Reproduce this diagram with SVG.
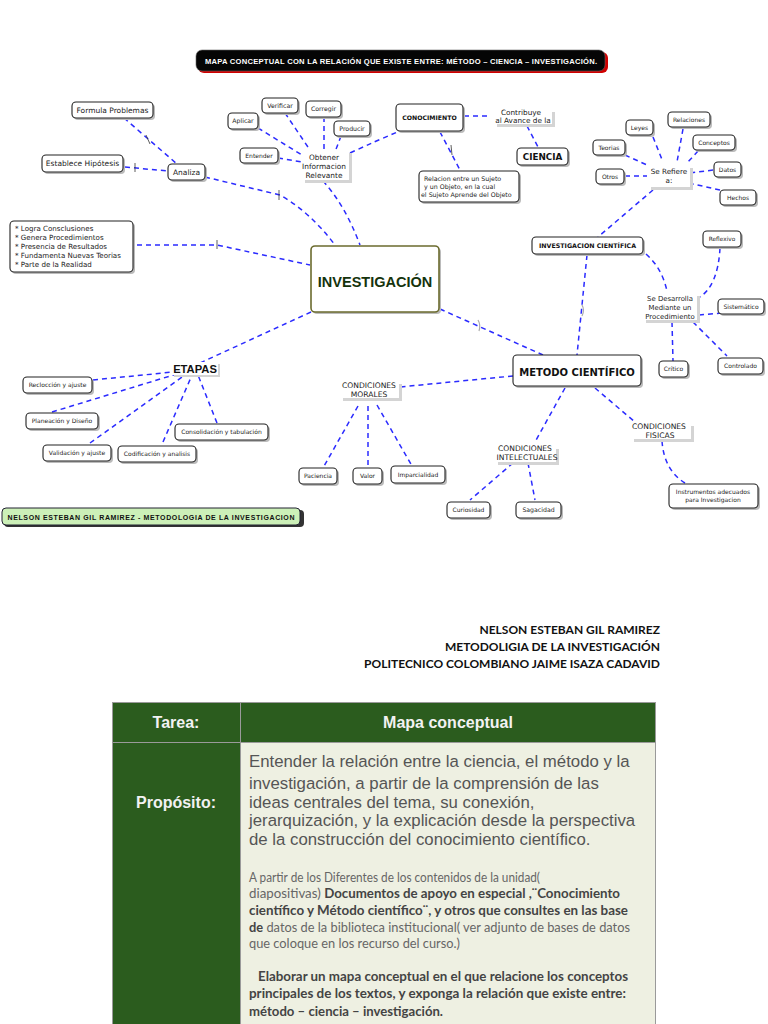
<svg xmlns="http://www.w3.org/2000/svg" width="768" height="1024" viewBox="0 0 768 1024">
<style>
.n{fill:#fff;stroke:#222;stroke-width:1.1}
.sh{fill:#bbb}
.lsh{fill:#d4d4d4}
.t{font-family:"DejaVu Sans",Verdana,sans-serif;fill:#222;text-anchor:middle}
.ts{font-family:"DejaVu Sans",Verdana,sans-serif;fill:#222;text-anchor:start}
.tb{font-family:"DejaVu Sans",Verdana,sans-serif;font-weight:bold;fill:#111;text-anchor:middle}
.c{fill:none;stroke:#2b2bff;stroke-width:1.5;stroke-dasharray:5 4}
.tick{stroke:#333;stroke-width:0.8}
.br{stroke:#aaa;stroke-width:1.2;fill:none}
.cal{font-family:"Lato","Open Sans",sans-serif}
</style>
<rect width="768" height="1024" fill="#fff"/>

<!-- title -->
<g id="title">
<rect x="198" y="52" width="410" height="21" rx="6" fill="#d00000"/>
<rect x="196" y="50" width="409" height="21" rx="6" fill="#050505" stroke="#666" stroke-width="0.6"/>
<text x="401" y="63.5" font-family="Liberation Sans,Arial,sans-serif" font-weight="bold" font-size="7.6" fill="#fff" text-anchor="middle" textLength="392">MAPA CONCEPTUAL CON LA RELACIÓN QUE EXISTE ENTRE: MÉTODO – CIENCIA – INVESTIGACIÓN.</text>
</g>

<!-- connectors -->
<g id="connectors">
<path class="c" d="M124,118 L177,164"/>
<path class="c" d="M125,167 L168,171"/>
<path class="c" d="M205,177 L280,195 Q310,212 335,245"/>
<path class="c" d="M323,181 Q345,205 360,245"/>
<path class="c" d="M137,245 L217,245 L310,265"/>
<path class="c" d="M258,128 L302,155"/>
<path class="c" d="M285,113 L312,153"/>
<path class="c" d="M324,117 L324,152"/>
<path class="c" d="M341,136 L335,152"/>
<path class="c" d="M278,158 L302,162"/>
<path class="c" d="M350,153 Q378,140 400,131"/>
<path class="c" d="M464,116 L491,116"/>
<path class="c" d="M527,126 L538,147"/>
<path class="c" d="M440,132 L460,170"/>
<path class="c" d="M653,137 L663,162"/>
<path class="c" d="M683,129 L677,162"/>
<path class="c" d="M698,151 L688,162"/>
<path class="c" d="M625,155 L647,165"/>
<path class="c" d="M625,176 L647,176"/>
<path class="c" d="M713,170 L690,173"/>
<path class="c" d="M720,190 L693,184"/>
<path class="c" d="M653,190 L598,237"/>
<path class="c" d="M587,255 L577,355"/>
<path class="c" d="M646,254 Q662,268 667,291"/>
<path class="c" d="M720,248 Q718,285 700,297"/>
<path class="c" d="M699,315 L722,313"/>
<path class="c" d="M672,322 L673,361"/>
<path class="c" d="M693,322 L727,356"/>
<path class="c" d="M440,309 L543,355"/>
<path class="c" d="M311,312 L200,363"/>
<path class="c" d="M93,380 L173,372"/>
<path class="c" d="M52,412 L180,373"/>
<path class="c" d="M90,443 L185,375"/>
<path class="c" d="M163,442 L192,375"/>
<path class="c" d="M217,423 L198,375"/>
<path class="c" d="M513,376 L400,387"/>
<path class="c" d="M358,406 L323,468"/>
<path class="c" d="M368,406 L368,469"/>
<path class="c" d="M377,405 L412,466"/>
<path class="c" d="M565,388 L535,442"/>
<path class="c" d="M595,388 L635,422"/>
<path class="c" d="M662,441 Q664,470 685,483"/>
<path class="c" d="M513,463 L470,500"/>
<path class="c" d="M528,463 L535,500"/>
<line class="tick" x1="146" y1="135" x2="150" y2="144"/>
<line class="tick" x1="135" y1="163" x2="135" y2="172"/>
<line class="tick" x1="279" y1="190" x2="279" y2="200"/>
<line class="tick" x1="217" y1="240" x2="217" y2="249"/>
<line class="tick" x1="451" y1="145" x2="452" y2="155"/>
<path class="br" d="M582,305 Q585,310 582,316"/>
<path class="br" d="M478,320 Q481,325 479,331"/>
</g>

<!-- nodes -->
<g id="n-formula"><rect class="sh" x="74" y="104" width="81" height="16" rx="4"/><rect class="n" x="72" y="102" width="81" height="16" rx="4"/><text class="t" x="112.5" y="112.7" font-size="7.5">Formula Problemas</text></g>
<g id="n-hipotesis"><rect class="sh" x="44" y="157" width="81" height="17" rx="4"/><rect class="n" x="42" y="155" width="81" height="17" rx="4"/><text class="t" x="82.5" y="166.2" font-size="7.5">Establece Hipótesis</text></g>
<g id="n-analiza"><rect class="sh" x="170" y="166" width="37" height="16" rx="4"/><rect class="n" x="168" y="164" width="37" height="16" rx="4"/><text class="t" x="186.5" y="174.7" font-size="7.5">Analiza</text></g>
<g id="n-logra"><rect class="sh" x="12" y="223" width="123" height="51" rx="4"/><rect class="n" x="10" y="221" width="123" height="51" rx="4"/>
<text class="ts" x="15" y="230.5" font-size="7.1">* Logra Consclusiones</text>
<text class="ts" x="15" y="239.5" font-size="7.1">* Genera Procedimientos</text>
<text class="ts" x="15" y="248.5" font-size="7.1">* Presencia de Resultados</text>
<text class="ts" x="15" y="257.5" font-size="7.1">* Fundamenta Nuevas Teorias</text>
<text class="ts" x="15" y="266.5" font-size="7.1">* Parte de la Realidad</text></g>
<g id="n-investigacion"><rect class="sh" x="313" y="248" width="128" height="66" rx="4"/><rect x="311" y="246" width="128" height="66" rx="4" fill="#fff" stroke="#6b6b2e" stroke-width="1.6"/><text x="375" y="287" font-family="Liberation Sans,Arial,sans-serif" font-weight="bold" font-size="14.5" fill="#15330c" text-anchor="middle">INVESTIGACIÓN</text></g>
<g id="n-verificar"><rect class="sh" x="264" y="100" width="36" height="15" rx="4"/><rect class="n" x="262" y="98" width="36" height="15" rx="4"/><text class="t" x="280" y="107.8" font-size="6.2">Verificar</text></g>
<g id="n-corregir"><rect class="sh" x="308" y="103" width="35" height="16" rx="4"/><rect class="n" x="306" y="101" width="35" height="16" rx="4"/><text class="t" x="323.5" y="111.3" font-size="6.2">Corregir</text></g>
<g id="n-aplicar"><rect class="sh" x="230" y="115" width="30" height="16" rx="4"/><rect class="n" x="228" y="113" width="30" height="16" rx="4"/><text class="t" x="243" y="123.3" font-size="6.2">Aplicar</text></g>
<g id="n-producir"><rect class="sh" x="336" y="123" width="36" height="15" rx="4"/><rect class="n" x="334" y="121" width="36" height="15" rx="4"/><text class="t" x="352" y="130.8" font-size="6.2">Producir</text></g>
<g id="n-entender"><rect class="sh" x="242" y="150" width="38" height="15" rx="4"/><rect class="n" x="240" y="148" width="38" height="15" rx="4"/><text class="t" x="259" y="157.8" font-size="6">Entender</text></g>
<g id="n-obtener"><rect class="lsh" x="305" y="153" width="47" height="30"/><rect x="302" y="150" width="47" height="30" fill="#fff"/>
<text class="t" x="324" y="159.8" font-size="7.4">Obtener</text><text class="t" x="324" y="168.8" font-size="7.4">Informacion</text><text class="t" x="324" y="177.8" font-size="7.4">Relevante</text></g>
<g id="n-conocimiento"><rect class="sh" x="398" y="106" width="67" height="27" rx="4"/><rect class="n" x="396" y="104" width="67" height="27" rx="4"/><text class="tb" x="429.5" y="120" font-size="6.2">CONOCIMIENTO</text></g>
<g id="n-contribuye"><rect class="lsh" x="497" y="112" width="58" height="15"/><rect x="494" y="109" width="58" height="15" fill="#fff"/>
<text class="t" x="521" y="115" font-size="7.3">Contribuye</text><text class="t" x="523" y="123.3" font-size="7.3">al Avance de la</text></g>
<g id="n-ciencia"><rect class="sh" x="519" y="150" width="51" height="17" rx="4"/><rect class="n" x="517" y="148" width="51" height="17" rx="4"/><text class="tb" x="542.5" y="160" font-size="8.8">CIENCIA</text></g>
<g id="n-relacion"><rect class="sh" x="421" y="173" width="100" height="31" rx="4"/><rect class="n" x="419" y="171" width="100" height="31" rx="4"/>
<text class="ts" x="424" y="180.5" font-size="6.3">Relacion entre un Sujeto</text>
<text class="ts" x="424" y="188.5" font-size="6.3">y un Objeto,  en la cual</text>
<text class="ts" x="421" y="196.5" font-size="6.3">el Sujeto Aprende del Objeto</text></g>
<g id="n-leyes"><rect class="sh" x="628" y="122" width="27" height="15" rx="4"/><rect class="n" x="626" y="120" width="27" height="15" rx="4"/><text class="t" x="639.5" y="129.8" font-size="6">Leyes</text></g>
<g id="n-relaciones"><rect class="sh" x="670" y="114" width="42" height="15" rx="4"/><rect class="n" x="668" y="112" width="42" height="15" rx="4"/><text class="t" x="689" y="121.8" font-size="6">Relaciones</text></g>
<g id="n-teorias"><rect class="sh" x="595" y="142" width="32" height="15" rx="4"/><rect class="n" x="593" y="140" width="32" height="15" rx="4"/><text class="t" x="609" y="149.8" font-size="6">Teorias</text></g>
<g id="n-conceptos"><rect class="sh" x="695" y="137" width="42" height="15" rx="4"/><rect class="n" x="693" y="135" width="42" height="15" rx="4"/><text class="t" x="714" y="144.8" font-size="6">Conceptos</text></g>
<g id="n-otros"><rect class="sh" x="598" y="171" width="28" height="15" rx="4"/><rect class="n" x="596" y="169" width="28" height="15" rx="4"/><text class="t" x="610" y="178.8" font-size="6">Otros</text></g>
<g id="n-serefiere"><rect class="lsh" x="651" y="168" width="42" height="22"/><rect x="648" y="165" width="42" height="22" fill="#fff"/>
<text class="t" x="669" y="174.3" font-size="7.2">Se Refiere</text><text class="t" x="669" y="183.3" font-size="7.2">a:</text></g>
<g id="n-datos"><rect class="sh" x="716" y="164" width="27" height="15" rx="4"/><rect class="n" x="714" y="162" width="27" height="15" rx="4"/><text class="t" x="727.5" y="171.8" font-size="6">Datos</text></g>
<g id="n-hechos"><rect class="sh" x="722" y="192" width="36" height="15" rx="4"/><rect class="n" x="720" y="190" width="36" height="15" rx="4"/><text class="t" x="738" y="199.8" font-size="6">Hechos</text></g>
<g id="n-invcient"><rect class="sh" x="534" y="239" width="111" height="17" rx="4"/><rect class="n" x="532" y="237" width="111" height="17" rx="4"/><text class="tb" x="587.5" y="248.2" font-size="6.3">INVESTIGACION CIENTÍFICA</text></g>
<g id="n-reflexivo"><rect class="sh" x="705" y="233" width="38" height="16" rx="4"/><rect class="n" x="703" y="231" width="38" height="16" rx="4"/><text class="t" x="722" y="241.3" font-size="5.8">Reflexivo</text></g>
<g id="n-desarrolla"><rect class="lsh" x="646" y="296" width="54" height="27"/><rect x="643" y="293" width="54" height="27" fill="#fff"/>
<text class="t" x="670" y="300.8" font-size="6.9">Se Desarrolla</text><text class="t" x="670" y="309.8" font-size="6.9">Mediante un</text><text class="t" x="670" y="318.8" font-size="6.9">Procedimiento</text></g>
<g id="n-sistematico"><rect class="sh" x="720" y="301" width="46" height="15" rx="4"/><rect class="n" x="718" y="299" width="46" height="15" rx="4"/><text class="t" x="741" y="308.8" font-size="6">Sistemático</text></g>
<g id="n-critico"><rect class="sh" x="661" y="363" width="29" height="16" rx="4"/><rect class="n" x="659" y="361" width="29" height="16" rx="4"/><text class="t" x="673.5" y="371.3" font-size="6">Crítico</text></g>
<g id="n-controlado"><rect class="sh" x="720" y="360" width="45" height="16" rx="4"/><rect class="n" x="718" y="358" width="45" height="16" rx="4"/><text class="t" x="740.5" y="368.3" font-size="6">Controlado</text></g>
<g id="n-metodo"><rect class="sh" x="515" y="357" width="128" height="31" rx="4"/><rect class="n" x="513" y="355" width="128" height="31" rx="4"/><text class="tb" x="577" y="375.5" font-size="10">METODO CIENTÍFICO</text></g>
<g id="n-morales"><rect class="lsh" x="343" y="384" width="59" height="17"/><rect x="340" y="381" width="59" height="17" fill="#fff"/>
<text class="t" x="369" y="388" font-size="7.6">CONDICIONES</text><text class="t" x="369" y="397" font-size="7.6">MORALES</text></g>
<g id="n-intelectuales"><rect class="lsh" x="498" y="449" width="61" height="16"/><rect x="495" y="446" width="61" height="16" fill="#fff"/>
<text class="t" x="525" y="451" font-size="7.6">CONDICIONES</text><text class="t" x="527" y="460" font-size="7.6">INTELECTUALES</text></g>
<g id="n-fisicas"><rect class="lsh" x="634" y="426" width="60" height="16"/><rect x="631" y="423" width="60" height="16" fill="#fff"/>
<text class="t" x="659" y="428.5" font-size="7.6">CONDICIONES</text><text class="t" x="660" y="438" font-size="7.6">FISICAS</text></g>
<g id="n-instrumentos"><rect class="sh" x="671" y="486" width="89" height="24" rx="4"/><rect class="n" x="669" y="484" width="89" height="24" rx="4"/>
<text class="t" x="713" y="494" font-size="6">Instrumentos adecuados</text><text class="t" x="713" y="501.5" font-size="6">para Investigacion</text></g>
<g id="n-paciencia"><rect class="sh" x="301" y="470" width="38" height="16" rx="4"/><rect class="n" x="299" y="468" width="38" height="16" rx="4"/><text class="t" x="318" y="478.3" font-size="6">Paciencia</text></g>
<g id="n-valor"><rect class="sh" x="355" y="470" width="29" height="16" rx="4"/><rect class="n" x="353" y="468" width="29" height="16" rx="4"/><text class="t" x="367.5" y="478.3" font-size="6">Valor</text></g>
<g id="n-imparcialidad"><rect class="sh" x="393" y="468" width="54" height="17" rx="4"/><rect class="n" x="391" y="466" width="54" height="17" rx="4"/><text class="t" x="418" y="476.8" font-size="6">Imparcialidad</text></g>
<g id="n-curiosidad"><rect class="sh" x="449" y="504" width="43" height="16" rx="4"/><rect class="n" x="447" y="502" width="43" height="16" rx="4"/><text class="t" x="468.5" y="512.3" font-size="6">Curiosidad</text></g>
<g id="n-sagacidad"><rect class="sh" x="518" y="504" width="45" height="16" rx="4"/><rect class="n" x="516" y="502" width="45" height="16" rx="4"/><text class="t" x="538.5" y="512.3" font-size="6.2">Sagacidad</text></g>
<g id="n-etapas"><rect class="lsh" x="174" y="364" width="46" height="13"/><rect x="172" y="362" width="46" height="13" fill="#fff"/><text x="195" y="373" font-family="Liberation Sans,Arial,sans-serif" font-weight="bold" font-size="11.2" fill="#111" text-anchor="middle">ETAPAS</text></g>
<g id="n-reclocion"><rect class="sh" x="25" y="379" width="69" height="16" rx="4"/><rect class="n" x="23" y="377" width="69" height="16" rx="4"/><text class="t" x="57.5" y="387.3" font-size="6">Reclocción y ajuste</text></g>
<g id="n-planeacion"><rect class="sh" x="28" y="415" width="72" height="16" rx="4"/><rect class="n" x="26" y="413" width="72" height="16" rx="4"/><text class="t" x="62" y="423.3" font-size="6">Planeación y Diseño</text></g>
<g id="n-validacion"><rect class="sh" x="45" y="447" width="68" height="16" rx="4"/><rect class="n" x="43" y="445" width="68" height="16" rx="4"/><text class="t" x="77" y="455.3" font-size="6">Validación y ajuste</text></g>
<g id="n-codificacion"><rect class="sh" x="120" y="448" width="78" height="16" rx="4"/><rect class="n" x="118" y="446" width="78" height="16" rx="4"/><text class="t" x="157" y="456.3" font-size="6">Codificación y analisis</text></g>
<g id="n-consolidacion"><rect class="sh" x="177" y="426" width="93" height="16" rx="4"/><rect class="n" x="175" y="424" width="93" height="16" rx="4"/><text class="t" x="221.5" y="434.3" font-size="6">Consolidación y tabulación</text></g>
<g id="n-footer"><rect x="4" y="510" width="300" height="17" rx="4" fill="#333"/><rect x="2" y="508" width="298" height="17" rx="4" fill="#ccf0b8" stroke="#223" stroke-width="1"/><text x="151" y="519.5" font-family="Liberation Sans,Arial,sans-serif" font-weight="bold" font-size="7" fill="#111" text-anchor="middle" textLength="287">NELSON ESTEBAN GIL RAMIREZ - METODOLOGIA DE LA INVESTIGACION</text></g>

<!-- author lines -->
<g id="author" font-family="Lato,'Open Sans',sans-serif" font-weight="bold" font-size="12" fill="#111" text-anchor="end">
<text x="660" y="634">NELSON ESTEBAN GIL RAMIREZ</text>
<text x="660" y="651">METODOLIGIA DE LA INVESTIGACIÓN</text>
<text x="660" y="668">POLITECNICO COLOMBIANO JAIME ISAZA CADAVID</text>
</g>

<!-- table -->
<g id="table">
<rect x="112" y="702" width="544" height="330" fill="#9a9a9a"/>
<rect x="113" y="703" width="127" height="39" fill="#2b5c1e"/>
<rect x="241" y="703" width="414" height="39" fill="#2b5c1e"/>
<rect x="113" y="743" width="127" height="290" fill="#2b5c1e"/>
<rect x="241" y="743" width="414" height="290" fill="#eef0e2"/>
<text x="176" y="728" font-family="Liberation Sans,Arial,sans-serif" font-weight="bold" font-size="16" fill="#f2f2f2" text-anchor="middle">Tarea:</text>
<text x="448" y="728" font-family="Liberation Sans,Arial,sans-serif" font-weight="bold" font-size="16" fill="#f2f2f2" text-anchor="middle">Mapa conceptual</text>
<text x="176" y="808" font-family="Liberation Sans,Arial,sans-serif" font-weight="bold" font-size="16" fill="#f2f2f2" text-anchor="middle">Propósito:</text>
<g font-family="Liberation Sans,Arial,sans-serif" font-size="16.8" fill="#555">
<text x="249" y="767">Entender la relación entre la ciencia, el método y la</text>
<text x="249" y="789">investigación, a partir de la comprensión de las</text>
<text x="249" y="808">ideas centrales del tema, su conexión,</text>
<text x="249" y="826">jerarquización, y la explicación desde la perspectiva</text>
<text x="249" y="845">de la construcción del conocimiento científico.</text>
</g>
<g class="cal" font-size="12.4" fill="#666">
<text x="249" y="882" textLength="291" lengthAdjust="spacingAndGlyphs">A partir de los Diferentes de los contenidos de la  unidad(</text>
<text x="249" y="898" textLength="371" lengthAdjust="spacingAndGlyphs">diapositivas)  <tspan font-weight="bold" fill="#444">Documentos de apoyo en especial ,¨Conocimiento</tspan></text>
<text x="249" y="915" font-weight="bold" fill="#444" textLength="379" lengthAdjust="spacingAndGlyphs">científico y Método científico¨, y otros que consultes en las base</text>
<text x="249" y="932" textLength="381" lengthAdjust="spacingAndGlyphs"><tspan font-weight="bold" fill="#444">de</tspan> datos de la biblioteca institucional( ver adjunto de bases de datos</text>
<text x="249" y="948" textLength="211" lengthAdjust="spacingAndGlyphs">que coloque en los recurso del curso.)</text>
<g font-weight="bold" fill="#444">
<text x="258" y="981" textLength="370" lengthAdjust="spacingAndGlyphs">Elaborar un mapa conceptual en el que relacione los conceptos</text>
<text x="249" y="998" textLength="377" lengthAdjust="spacingAndGlyphs">principales de los textos, y exponga la relación que existe entre:</text>
<text x="249" y="1016" textLength="194" lengthAdjust="spacingAndGlyphs">método – ciencia – investigación.</text>
</g>
</g>
</g>
</svg>
